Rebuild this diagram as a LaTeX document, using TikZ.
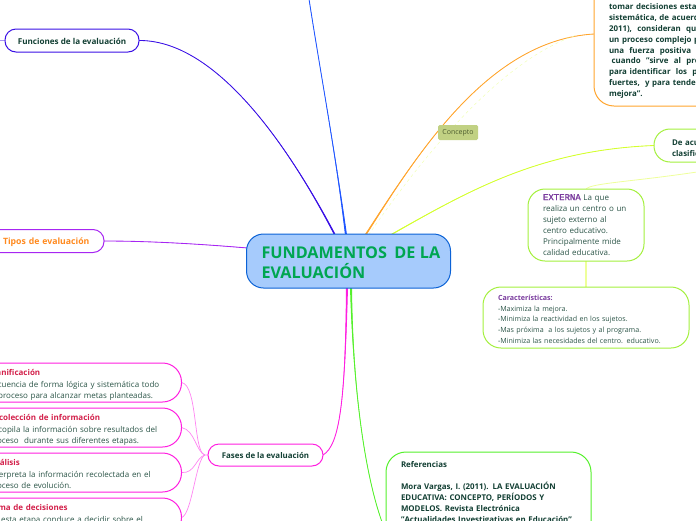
\documentclass[tikz,border=0pt]{standalone}
\usepackage{fontspec}
\setmainfont{Open Sans}
\newfontfamily\slabfont{Liberation Mono}[FakeBold=1.5]
\usetikzlibrary{calc,backgrounds}
\definecolor{inkgreen}{HTML}{123F33}
\definecolor{bodyink}{HTML}{2C5548}
\definecolor{rootfill}{HTML}{A6CBFC}
\definecolor{rootline}{HTML}{0B62D6}
\definecolor{rootink}{HTML}{00A651}
\definecolor{cViolet}{HTML}{3A10E5}
\definecolor{cPurple}{HTML}{A726F2}
\definecolor{cBlue}{HTML}{1F55FF}
\definecolor{cOrange}{HTML}{FFA52E}
\definecolor{cLime}{HTML}{D4FF2E}
\definecolor{cLeaf}{HTML}{A4F03E}
\definecolor{cPale}{HTML}{EEFF9A}
\definecolor{cGreen}{HTML}{55F02C}
\definecolor{cMagenta}{HTML}{FF1FE0}
\definecolor{cPink}{HTML}{FF85F2}
\definecolor{tagfill}{HTML}{C1D183}
\definecolor{tagink}{HTML}{4C5C2E}
\definecolor{redhead}{HTML}{D3214B}
\definecolor{purplehead}{HTML}{7A3B9E}
\definecolor{tipoink}{HTML}{FF8A1F}
\newcommand{\lift}[1]{\rule{0pt}{#1pt}}
\tikzset{
  x=1pt,y=-1pt,
  box/.style={draw,fill=white,line width=1pt,align=left,inner ysep=0pt,outer sep=0pt},
  small/.style={box,rounded corners=11pt,font=\bfseries\fontsize{8.1}{11}\selectfont,text=inkgreen,text height=8.5pt,text depth=1pt},
  wide/.style={box,rounded corners=19pt,font=\fontsize{8}{11.1}\selectfont,text=bodyink},
}
% \taper{colour}{from}{control 1}{control 2}{to}{half width at the start}
\newcommand{\taper}[6]{%
  \fill[#1] ($(#2)+(#6,0)$) .. controls (#3) and (#4) .. (#5) .. controls (#4) and (#3) .. ($(#2)-(#6,0)$) -- cycle;
  \draw[#1,line width=.85pt] (#2) .. controls (#3) and (#4) .. (#5);}
\begin{document}
\begin{tikzpicture}
\useasboundingbox (0,0) rectangle (696,520);

\node[box,draw=rootline,fill=rootfill,rounded corners=17pt,minimum width=204pt,minimum height=54pt,inner xsep=15pt,text width=174pt,
  font=\bfseries\fontsize{16.2}{20.8}\selectfont,text=rootink] (root) at (348.5,261) {\lift{15}\mbox{FUNDAMENTOS\hspace{2pt} DE\hspace{-1pt} LA}\\EVALUACIÓN};

\node[small,draw=cViolet,minimum width=134pt,minimum height=23pt,align=center] (funciones) at (72,40.5) {Funciones de la evaluación};
\node[small,draw=cPurple,text=tipoink,minimum width=120pt,minimum height=23pt,inner xsep=0pt,text width=117pt,font=\bfseries\fontsize{8.7}{11}\selectfont] (tipos) at (44,241) {\hspace*{17.5pt}Tipos de evaluación};
\coordinate (stub) at (0,40.5);
\coordinate (topend) at (309,-1);

% Concepto branch
\node[box,draw=cOrange,rounded corners=20pt,minimum width=130pt,minimum height=140pt,inner xsep=15pt,text width=100pt,
  font=\bfseries\fontsize{7.9}{10.9}\selectfont,text=inkgreen] (concepto) at (659,36) {%
  \phantom{x}\\\phantom{x}\\\phantom{x}\\[-1pt]
  \mbox{tomar decisiones establecen}\\
  \mbox{sistemática, de acuerdo}\\
  \mbox{2011),\ \ consideran\ \ que}\\
  \mbox{un proceso complejo para}\\
  \mbox{una\ \ fuerza\ \ positiva\ \ para}\\
  \mbox{\ cuando\ \ "sirve\ \ al\ \ proceso}\\
  \mbox{para identificar\ \ los\ \ puntos}\\
  \mbox{fuertes,\ \ y para tender}\\
  mejora".};
\node[fill=tagfill,rounded corners=1.5pt,minimum width=40pt,minimum height=15pt,inner sep=0pt,text=tagink,font=\fontsize{7}{9}\selectfont] (tag) at (458,132.5) {Concepto};

% Lime branch
\node[box,draw=cLeaf,rounded corners=16pt,minimum width=100pt,minimum height=33pt,inner xsep=18pt,text width=64pt,font=\bfseries\fontsize{7.9}{11}\selectfont,text=inkgreen] (clasif) at (704,145.5) {\lift{12}\mbox{De acuerdo a su}\\\mbox{clasificación}};
\node[wide,draw=cLeaf,rounded corners=17pt,minimum width=116pt,minimum height=72pt,inner xsep=15pt,text width=86pt] (externa) at (586,225) {{\slabfont\fontsize{9}{11}\selectfont\color{purplehead}EXTERNA} La que\\realiza un centro o un\\sujeto externo al\\centro educativo.\\Principalmente mide\\calidad educativa.};
\node[wide,draw=cLeaf,rounded corners=18pt,minimum width=206pt,minimum height=61pt,inner xsep=15pt,text width=176pt,font=\fontsize{7.1}{10.95}\selectfont] (rasgos) at (586,317.5) {\lift{9}{\bfseries\color{purplehead}Características:}\\-Maximiza la mejora.\\-Minimiza la reactividad en los sujetos.\\-Mas próxima\ \ a los sujetos y al programa.\\-Minimiza las necesidades del centro. educativo.};
\coordinate (limeend) at (697,172);

% Phases branch
\node[small,draw=cMagenta,minimum width=115pt,minimum height=22pt,align=center,font=\bfseries\fontsize{7.9}{11}\selectfont] (fases) at (265.5,455) {Fases de la evaluación};
\tikzset{phase/.style={wide,draw=cMagenta,rounded corners=19pt,minimum width=205pt,minimum height=39pt,inner xsep=0pt,text width=180pt}}
\node[phase] (planif) at (79,382.5) {\lift{11}{\bfseries\color{redhead}Planificación}\\Secuencia de forma lógica y sistemática todo\\el proceso para alcanzar metas planteadas.};
\node[phase] (recol) at (79,427.5) {\lift{11}{\bfseries\color{redhead}Recolección de información}\\Recopila la información sobre resultados del\\proceso\ \ durante sus diferentes etapas.};
\node[phase] (analisis) at (79,472.5) {\lift{11}{\bfseries\color{redhead}Análisis}\\Interpreta la información recolectada en el\\proceso de evolución.};
\node[phase] (toma) at (79,517.5) {\lift{11}{\bfseries\color{redhead}Toma de decisiones}\\En esta etapa conduce a decidir sobre el\\proceso de evaluación.};

% References branch
\node[box,draw=cGreen,rounded corners=20pt,minimum width=205pt,inner xsep=15pt,text width=175pt,anchor=north west,inner ysep=9pt,
  font=\bfseries\fontsize{7.9}{11}\selectfont,text=inkgreen] (refs) at (386,452) {Referencias\\[11.5pt]Mora Vargas, I. (2011). LA EVALUACIÓN\\EDUCATIVA: CONCEPTO, PERÍODOS Y\\MODELOS. Revista Electrónica\\"Actualidades Investigativas en Educación"\\[80pt]~};

\begin{scope}[on background layer]
  \taper{cViolet}{$(root.north)+(-13.5,1)$}{280,130}{210,40}{funciones.east}{.9}
  \taper{cPurple}{$(root.west)+(1,-13)$}{200,244}{150,241}{tipos.east}{.7}
  \taper{cBlue}{$(root.north)+(-2.5,1)$}{335,150}{320,70}{topend}{1}
  \taper{cOrange}{$(root.north)+(17,1)$}{420,150}{490,40}{$(concepto.west)+(0,-2)$}{1}
  \draw[cLime!35,line width=.5pt,dashed] ($(root.north)+(20,1)$) .. controls (420,160) and (500,60) .. (577,35);
  \taper{cLime}{$(root.north)+(42,1)$}{470,190}{540,150}{clasif.west}{1}
  \taper{cMagenta}{$(root.south)+(-1.5,-1)$}{345,400}{340,445}{fases.east}{1}
  \taper{cGreen}{$(root.south)+(2.5,-1)$}{353,390}{365,480}{385,530}{1}
  \draw[cViolet!45,line width=.7pt] (funciones.west) -- (stub);
  \draw[cPale,line width=.8pt] (externa.north) .. controls (592,183) and (630,182) .. (limeend);
  \draw[cPale,line width=1.1pt] (externa.south) -- (rasgos.north);
  \draw[cPink,line width=.7pt] (fases.west) -- ($(fases.west)+(-3,0)$) .. controls (193,453) and (198,385) .. (planif.east);
  \draw[cPink,line width=.7pt] ($(fases.west)+(-3,0)$) .. controls (196,452) and (195,430) .. (recol.east);
  \draw[cPink,line width=.7pt] ($(fases.west)+(-3,0)$) .. controls (196,457) and (195,474) .. (analisis.east);
  \draw[cPink,line width=.7pt] ($(fases.west)+(-3,0)$) .. controls (196,458) and (192,515) .. (toma.east);
\end{scope}
\end{tikzpicture}
\end{document}
